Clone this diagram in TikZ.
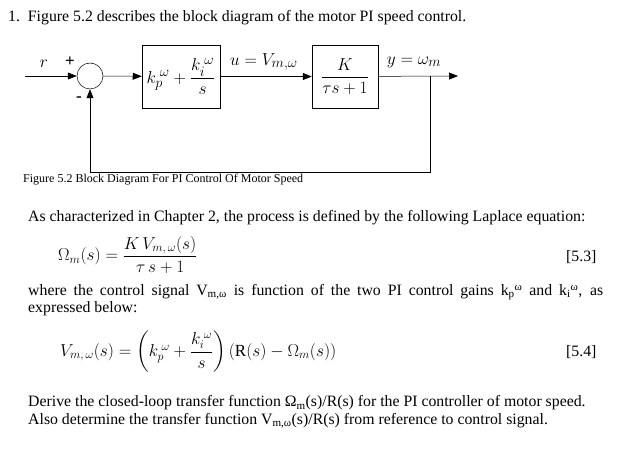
\documentclass[tikz,border=0pt]{standalone}
\usepackage{amsmath}
\usepackage{fontspec}
\setmainfont{Liberation Serif}
\usetikzlibrary{arrows.meta}
\begin{document}
\begin{tikzpicture}[x=1pt,y=-1pt,
  blk/.style={draw,line width=0.5pt,minimum width=#1,minimum height=63pt,inner sep=0pt},
  sig/.style={line width=0.5pt,-{Triangle[length=9pt,width=7pt]}},
  txt/.style={anchor=west,inner sep=0pt,font=\fontsize{15.8}{19}\selectfont},
  lbl/.style={inner sep=0pt,font=\fontsize{19}{21}\selectfont}]
\useasboundingbox (0,0) rectangle (631,462);
\node[txt] (t1) at (8,18) {1.\ \ Figure 5.2 describes the block diagram of the motor PI speed control.};
% diagram
\coordinate (in) at (25,76);
\node[draw,circle,minimum size=26pt,inner sep=0pt,line width=0.5pt] (sum) at (90,76) {};
\node[blk=78pt] (c) at (181,76.5) {};
\node[lbl] (cl) at (181,76.5) {$k_p^{\;\omega}+\dfrac{k_i^{\;\omega}}{s}$};
\node[blk=66pt] (p) at (345,76.5) {};
\node[lbl] (pl) at (345,76.5) {$\dfrac{K}{\tau s+1}$};
\coordinate (br) at (430,76);
\coordinate (out) at (458,76);
\coordinate (fb1) at (430,172);
\coordinate (fb2) at (90,172);
\draw[sig] (in) -- (sum);
\draw[sig] (sum) -- (c);
\draw[sig] (c) -- (p);
\draw[sig] (p) -- (out);
\draw[sig] (br) -- (fb1) -- (fb2) -- (sum);
\node[lbl] (r) at (44,64) {$r$};
\node[lbl,font=\bfseries\fontsize{17}{17}\selectfont] (plus) at (70,62) {+};
\node[lbl,font=\bfseries\fontsize{17}{17}\selectfont] (minus) at (79,99) {-};
\node[lbl] (u) at (264,62) {$u=V_{m,\omega}$};
\node[lbl] (y) at (414,62) {$y=\omega_m$};
\node[txt,font=\fontsize{12}{14}\selectfont] (cap) at (23,180) {Figure 5.2 Block Diagram For PI Control Of Motor Speed};
% text
\node[txt] (t2) at (28,218) {As characterized in Chapter 2, the process is defined by the following Laplace equation:};
\node[txt,font=\fontsize{17}{20}\selectfont] (e3) at (58,255) {$\Omega_m(s)=\dfrac{K\,V_{m,\,\omega}(s)}{\tau\, s+1}$};
\node[txt] (n3) at (566,257) {[5.3]};
\node[txt,anchor=north west,text width=575pt,align=justify,font=\fontsize{15.8}{17.5}\selectfont] (t3) at (28,284)
 {where the control signal V\textsubscript{m,ω} is function of the two PI control gains k\textsubscript{p}\textsuperscript{ω} and k\textsubscript{i}\textsuperscript{ω}, as\linebreak expressed below:};
\node[txt,font=\fontsize{17}{20}\selectfont] (e4) at (60,352) {$V_{m,\,\omega}(s)=\left(k_p^{\;\omega}+\dfrac{k_i^{\;\omega}}{s}\right)(\mathrm{R}(s)-\Omega_m(s))$};
\node[txt] (n4) at (566,352) {[5.4]};
\node[txt] (t4) at (28,403) {Derive the closed-loop transfer function Ω\textsubscript{m}(s)/R(s) for the PI controller of motor speed.};
\node[txt] (t5) at (28,421) {Also determine the transfer function V\textsubscript{m,ω}(s)/R(s) from reference to control signal.};
\end{tikzpicture}
\end{document}
